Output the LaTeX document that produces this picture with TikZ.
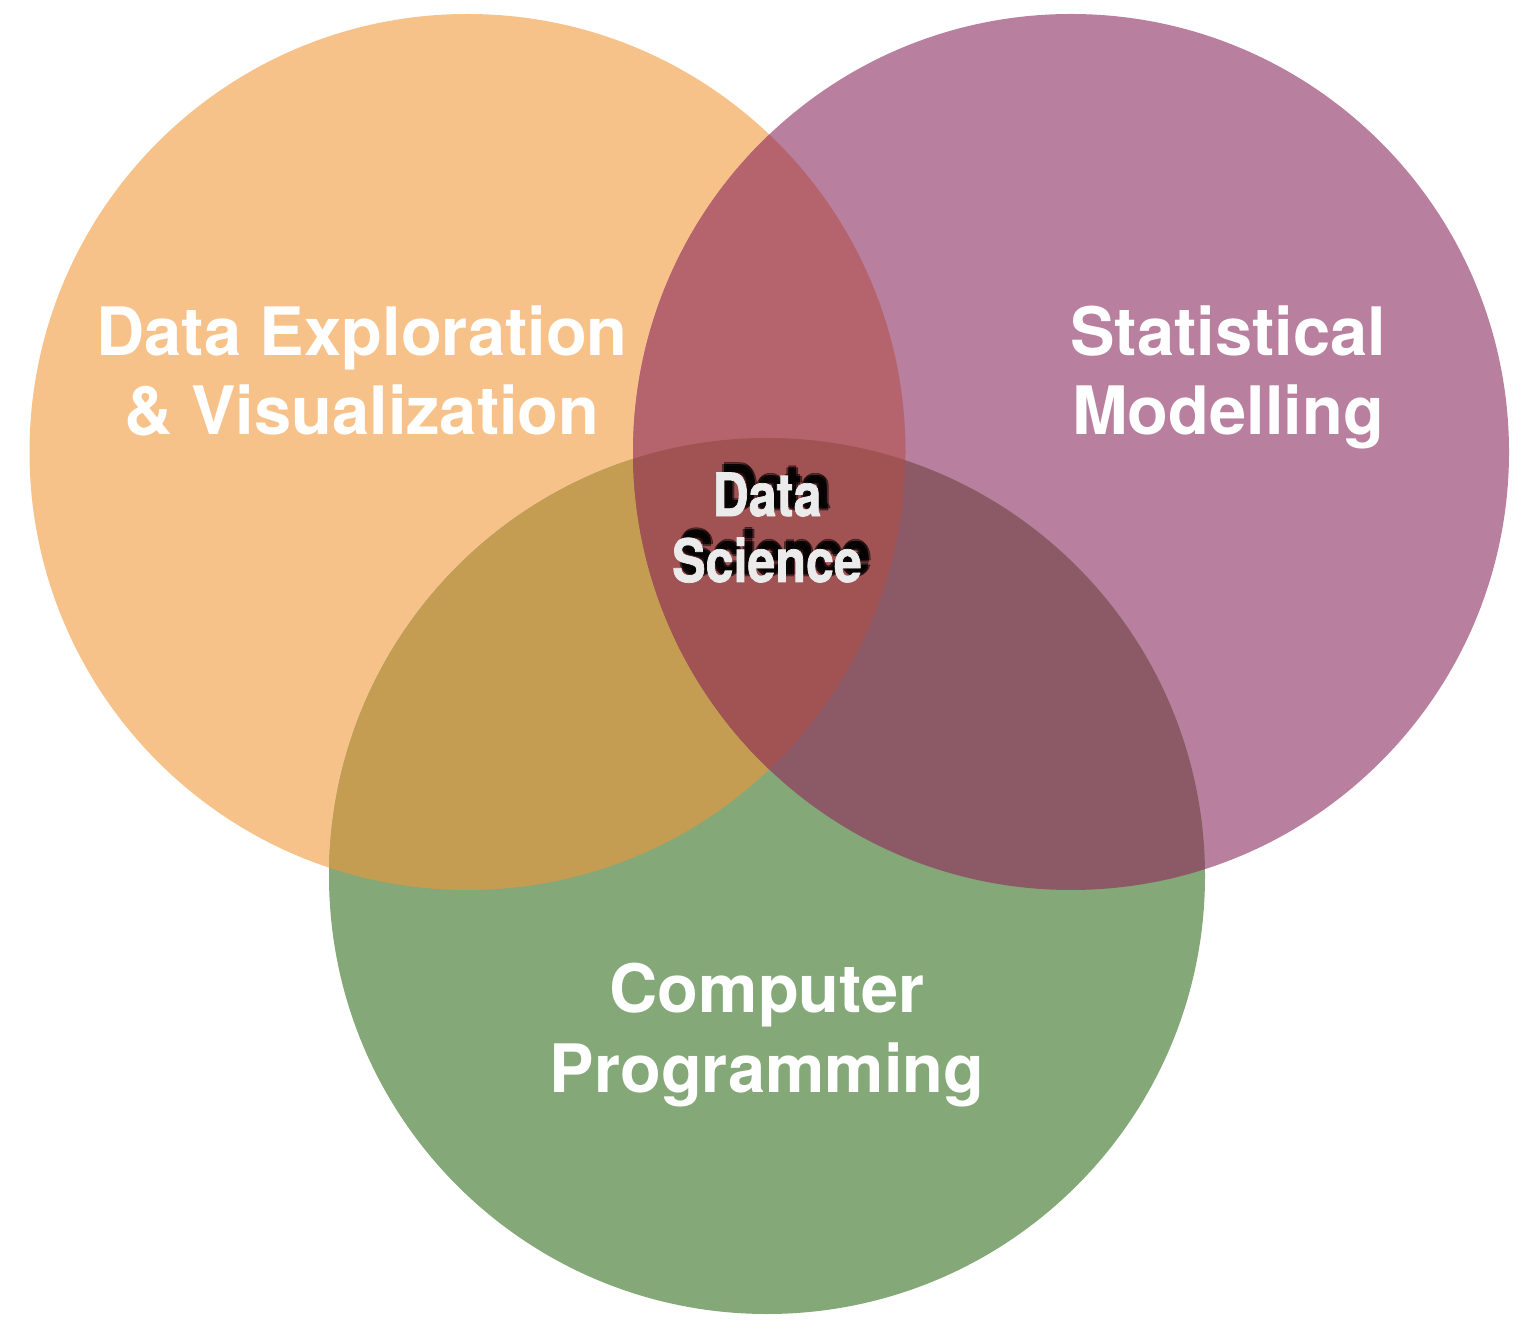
\documentclass[tikz,border=0pt]{standalone}
\usepackage{fontspec}
\newfontfamily\setfont{TeX Gyre Heros}
\newfontfamily\corefont[FakeStretch=0.84,FakeBold=1.2]{TeX Gyre Heros}

\definecolor{cexpl}{RGB}{247,194,138}
\definecolor{cstat}{RGB}{185,127,158}
\definecolor{cprog}{RGB}{132,168,119}
\definecolor{cexplstat}{RGB}{181,99,108}
\definecolor{cexplprog}{RGB}{197,157,82}
\definecolor{cstatprog}{RGB}{139,90,102}
\definecolor{call}{RGB}{161,83,84}
\definecolor{ctext}{RGB}{235,235,235}

\begin{document}
\begin{tikzpicture}[inner sep=0pt,
  setlabel/.style={text=white,align=center,anchor=base,
    font=\setfont\bfseries\fontsize{38}{45.5}\selectfont},
  corelabel/.style={align=center,anchor=base,
    font=\corefont\bfseries\fontsize{34}{37.5}\selectfont}]

\useasboundingbox (0,0) rectangle (30.72,26.64);

\coordinate (expl) at (9.35,17.6);
\coordinate (stat) at (21.42,17.6);
\coordinate (prog) at (15.34,9.12);

\fill[cexpl] (expl) circle (8.76);
\fill[cstat] (stat) circle (8.76);
\fill[cprog] (prog) circle (8.76);

\begin{scope}
\clip (expl) circle (8.76);
\fill[cexplstat] (stat) circle (8.76);
\fill[cexplprog] (prog) circle (8.76);
\end{scope}
\begin{scope}
\clip (stat) circle (8.76);
\fill[cstatprog] (prog) circle (8.76);
\end{scope}
\begin{scope}
\clip (expl) circle (8.76);
\clip (stat) circle (8.76);
\fill[call] (prog) circle (8.76);
\end{scope}

\node[setlabel] (explabel) at (7.24,17.94) {Data Exploration\\\& Visualization};
\node[setlabel] (statlabel) at (24.56,17.94) {Statistical\\Modelling};
\node[setlabel] (proglabel) at (15.34,4.8) {Computer\\Programming};

\foreach \dx/\dy [count=\i] in {0.16/0.16,0.12/0.16,0.2/0.16,0.16/0.12,0.16/0.2}
  \node[corelabel,text=black,opacity=0.45] (shadow\i) at (15.34+\dx,15.0+\dy) {Data\\Science};
\node[corelabel,text=ctext] (core) at (15.34,15.0) {Data\\Science};

\end{tikzpicture}
\end{document}
